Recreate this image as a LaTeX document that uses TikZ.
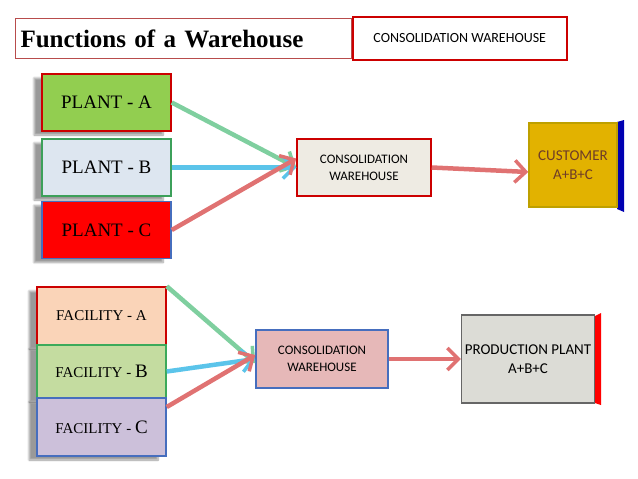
\documentclass[tikz,border=0pt]{standalone}
\usepackage{fontspec}
\setmainfont{Liberation Serif}
\newfontfamily\calfont{Carlito}
\usetikzlibrary{arrows.meta,shadows.blur}
\begin{document}
\begin{tikzpicture}[x=1pt,y=-1pt,
 box/.style={draw,line width=1.5pt,inner sep=0pt,font=\fontsize{19}{21}\selectfont,blur shadow={shadow xshift=-8pt,shadow yshift=-4pt,shadow blur steps=8}},
 sbox/.style={draw,line width=1.5pt,align=center,inner sep=0pt,font=\calfont\fontsize{13}{17}\selectfont},
 arr/.style={line width=4.5pt,-{Straight Barb[length=11pt,width=22pt,line width=3.5pt]}}]
\useasboundingbox (0,0) rectangle (638,479);
\definecolor{ag}{HTML}{7FCF9F}\definecolor{ab}{HTML}{5BC4EA}\definecolor{ar}{HTML}{E07272}
% title
\node[draw=red!60!black!70,line width=1pt,minimum width=336pt,minimum height=40pt,anchor=north west,font=\bfseries\fontsize{25}{27}\selectfont,text width=326pt,align=left] (title) at (15,18) {\raggedright Functions of a Warehouse};
\node[draw=red!80!black,line width=1.5pt,fill=white,minimum width=214pt,minimum height=43pt,anchor=north west,font=\calfont\fontsize{14}{16}\selectfont] (sub) at (352,16) {CONSOLIDATION WAREHOUSE};
% plants
\node[box,draw=red!80!black,fill={rgb,255:red,146;green,206;blue,80},minimum width=129pt,minimum height=57pt] (pa) at (106.5,102.5) {PLANT - A};
\node[box,draw={rgb,255:red,60;green,160;blue,90},fill={rgb,255:red,221;green,230;blue,240},minimum width=129pt,minimum height=57pt] (pb) at (106.5,167.5) {PLANT - B};
\node[box,draw={rgb,255:red,70;green,110;blue,190},fill=red,minimum width=129pt,minimum height=57pt] (pc) at (106.5,230) {PLANT - C};
\node[sbox,draw=red!80!black,fill={rgb,255:red,238;green,235;blue,227},minimum width=134pt,minimum height=57pt] (cw1) at (364,167.5) {CONSOLIDATION\\WAREHOUSE};
% customer
\fill[blue!70!black] (617,122) -- (624,120) -- (624,212) -- (617,209) -- cycle;
\node[sbox,draw={rgb,255:red,190;green,160;blue,0},fill={rgb,255:red,226;green,178;blue,0},minimum width=88pt,minimum height=84pt,text={rgb,255:red,110;green,60;blue,40},font=\calfont\fontsize{15}{19}\selectfont] (cu) at (573,165) {CUSTOMER\\A+B+C};
% facilities
\node[box,draw=red!80!black,fill={rgb,255:red,250;green,212;blue,184},minimum width=129pt,minimum height=58pt,font=\fontsize{15}{17}\selectfont] (fa) at (101.5,316) {FACILITY - A};
\node[box,draw={rgb,255:red,60;green,170;blue,90},fill={rgb,255:red,196;green,220;blue,160},minimum width=129pt,minimum height=53pt,font=\fontsize{15}{17}\selectfont] (fb) at (101.5,371.5) {FACILITY - \fontsize{19}{20}\selectfont B};
\node[box,draw={rgb,255:red,70;green,110;blue,190},fill={rgb,255:red,204;green,192;blue,218},minimum width=129pt,minimum height=58pt,font=\fontsize{15}{17}\selectfont] (fc) at (101.5,427) {FACILITY - \fontsize{19}{20}\selectfont C};
\node[sbox,draw={rgb,255:red,70;green,110;blue,190},fill={rgb,255:red,230;green,184;blue,184},minimum width=132pt,minimum height=58pt] (cw2) at (322,359) {CONSOLIDATION\\WAREHOUSE};
% production plant
\fill[red] (595,316) -- (601,313) -- (601,405) -- (595,403) -- cycle;
\node[sbox,draw=gray!80!black,fill={rgb,255:red,220;green,220;blue,214},minimum width=133pt,minimum height=88pt,font=\calfont\fontsize{15}{19}\selectfont] (pp) at (528,359) {PRODUCTION PLANT\\A+B+C};
% arrows
\draw[arr,ag] (pa.east) -- (cw1.west);
\draw[arr,ab] (pb.east) -- (cw1.west);
\draw[arr,ar] (pc.east) -- ([yshift=9pt]cw1.west);
\draw[arr,ar] (cw1.east) -- ([yshift=-7pt]cu.west);
\draw[arr,ag] (fa.north east) -- ([yshift=-4pt]cw2.west);
\draw[arr,ab] (fb.east) -- (cw2.west);
\draw[arr,ar] ([yshift=20pt]fc.east) -- ([yshift=4pt]cw2.west);
\draw[arr,ar] (cw2.east) -- (pp.west);
\end{tikzpicture}
\end{document}
